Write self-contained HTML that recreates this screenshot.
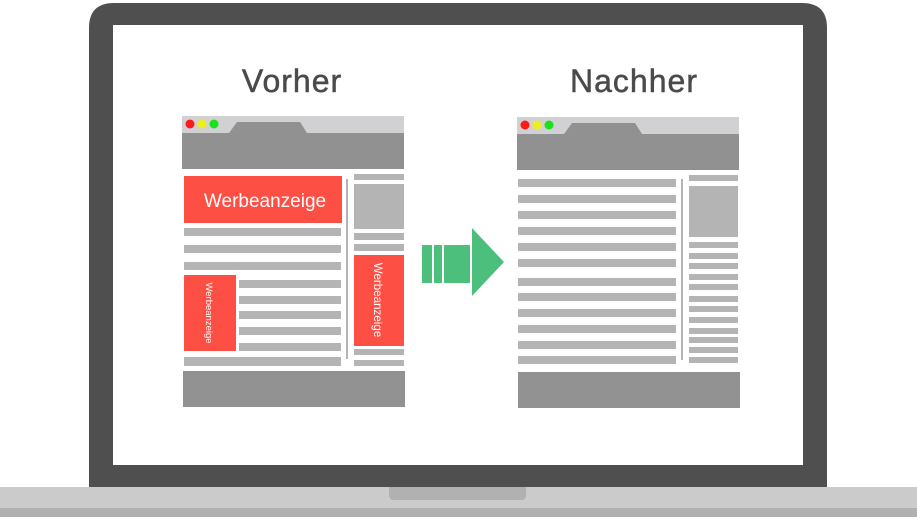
<!DOCTYPE html>
<html><head><meta charset="utf-8"><style>
html,body{margin:0;padding:0;background:#fff;}
svg{display:block;}
</style></head><body>
<svg width="917" height="522" viewBox="0 0 917 522" xmlns="http://www.w3.org/2000/svg">
<rect x="0" y="0" width="917" height="522" fill="#fff"/>
<!-- laptop frame -->
<path d="M89 487 L89 28 Q89 3 114 3 L802 3 Q827 3 827 28 L827 487 Z" fill="#4f4f4f"/>
<rect x="113" y="25" width="690" height="440" fill="#fff"/>
<!-- base -->
<rect x="0" y="487" width="917" height="21" fill="#cbcbcb"/>
<rect x="0" y="508" width="917" height="9" fill="#b1b1b1"/>
<path d="M389 487 L526 487 L526 495 Q526 500 521 500 L394 500 Q389 500 389 495 Z" fill="#b1b1b1"/>

<!-- titles -->
<text x="292" y="92" text-anchor="middle" font-family="Liberation Sans, sans-serif" font-size="32" letter-spacing="1" fill="#4a4a4a" stroke="#4a4a4a" stroke-width="0.5">Vorher</text>
<text x="634" y="92" text-anchor="middle" font-family="Liberation Sans, sans-serif" font-size="32" letter-spacing="1" fill="#4a4a4a" stroke="#4a4a4a" stroke-width="0.5">Nachher</text>

<!-- LEFT WINDOW -->
<g>
<rect x="182" y="116" width="222" height="17" fill="#d1d1d3"/>
<polygon points="229,133 237,122 300,122 307,133" fill="#919191"/>
<rect x="182" y="133" width="222" height="36" fill="#919191"/>
<circle cx="190" cy="124" r="4.5" fill="#ff1a1a"/>
<circle cx="202" cy="124" r="4.5" fill="#eeee1a"/>
<circle cx="214" cy="124" r="4.5" fill="#1ae21a"/>
<rect x="184" y="176" width="158" height="47" fill="#fe4f45"/>
<text x="265" y="207" text-anchor="middle" font-family="Liberation Sans, sans-serif" font-size="19" fill="#fff">Werbeanzeige</text>
<g fill="#b4b4b4">
<rect x="184" y="228" width="157" height="8"/>
<rect x="184" y="245" width="157" height="8"/>
<rect x="184" y="262" width="157" height="8"/>
<rect x="184" y="357" width="157" height="9"/>
<rect x="239" y="280" width="102" height="8"/>
<rect x="239" y="296" width="102" height="8"/>
<rect x="239" y="311" width="102" height="8"/>
<rect x="239" y="327" width="102" height="8"/>
<rect x="239" y="343" width="102" height="8"/>
<rect x="346" y="179" width="2" height="180"/>
<rect x="354" y="174" width="50" height="6"/>
<rect x="354" y="184" width="50" height="45"/>
<rect x="354" y="233" width="50" height="7"/>
<rect x="354" y="244" width="50" height="7"/>
<rect x="354" y="349" width="50" height="6"/>
<rect x="354" y="360" width="50" height="6"/>
</g>
<rect x="184" y="275" width="52" height="76" fill="#fe4f45"/>
<text transform="translate(206,313) rotate(90)" text-anchor="middle" font-family="Liberation Sans, sans-serif" font-size="9.5" fill="#fff">Werbeanzeige</text>
<rect x="354" y="255" width="50" height="91" fill="#fe4f45"/>
<text transform="translate(374,300) rotate(90)" text-anchor="middle" font-family="Liberation Sans, sans-serif" font-size="11.6" fill="#fff">Werbeanzeige</text>
<rect x="183" y="371" width="222" height="36" fill="#929292"/>
</g>

<!-- ARROW -->
<g fill="#4bbf7b">
<rect x="422" y="245" width="10" height="38"/>
<rect x="434" y="245" width="8" height="38"/>
<rect x="444" y="245" width="26" height="38"/>
<polygon points="472,228 504,262 472,296"/>
</g>

<!-- RIGHT WINDOW -->
<g>
<rect x="517" y="117" width="222" height="17" fill="#d1d1d3"/>
<polygon points="564,134 572,123 635,123 642,134" fill="#919191"/>
<rect x="517" y="134" width="222" height="36" fill="#919191"/>
<circle cx="525" cy="125" r="4.5" fill="#ff1a1a"/>
<circle cx="537" cy="125" r="4.5" fill="#eeee1a"/>
<circle cx="549" cy="125" r="4.5" fill="#1ae21a"/>
<g fill="#b4b4b4">
<rect x="518" y="179" width="158" height="8"/>
<rect x="518" y="195" width="158" height="8"/>
<rect x="518" y="211" width="158" height="8"/>
<rect x="518" y="227" width="158" height="8"/>
<rect x="518" y="243" width="158" height="8"/>
<rect x="518" y="259" width="158" height="8"/>
<rect x="518" y="278" width="158" height="8"/>
<rect x="518" y="293" width="158" height="8"/>
<rect x="518" y="309" width="158" height="8"/>
<rect x="518" y="325" width="158" height="8"/>
<rect x="518" y="341" width="158" height="8"/>
<rect x="518" y="356" width="158" height="8"/>
<rect x="681" y="179" width="2" height="181"/>
<rect x="689" y="175" width="49" height="6"/>
<rect x="689" y="186" width="49" height="51"/>
<rect x="689" y="242" width="49" height="6"/>
<rect x="689" y="253" width="49" height="6"/>
<rect x="689" y="263" width="49" height="6"/>
<rect x="689" y="274" width="49" height="6"/>
<rect x="689" y="284" width="49" height="6"/>
<rect x="689" y="296" width="49" height="6"/>
<rect x="689" y="306" width="49" height="6"/>
<rect x="689" y="317" width="49" height="6"/>
<rect x="689" y="328" width="49" height="6"/>
<rect x="689" y="337" width="49" height="6"/>
<rect x="689" y="347" width="49" height="6"/>
<rect x="689" y="357" width="49" height="6"/>
</g>
<rect x="518" y="372" width="222" height="36" fill="#929292"/>
</g>
</svg>
</body></html>
